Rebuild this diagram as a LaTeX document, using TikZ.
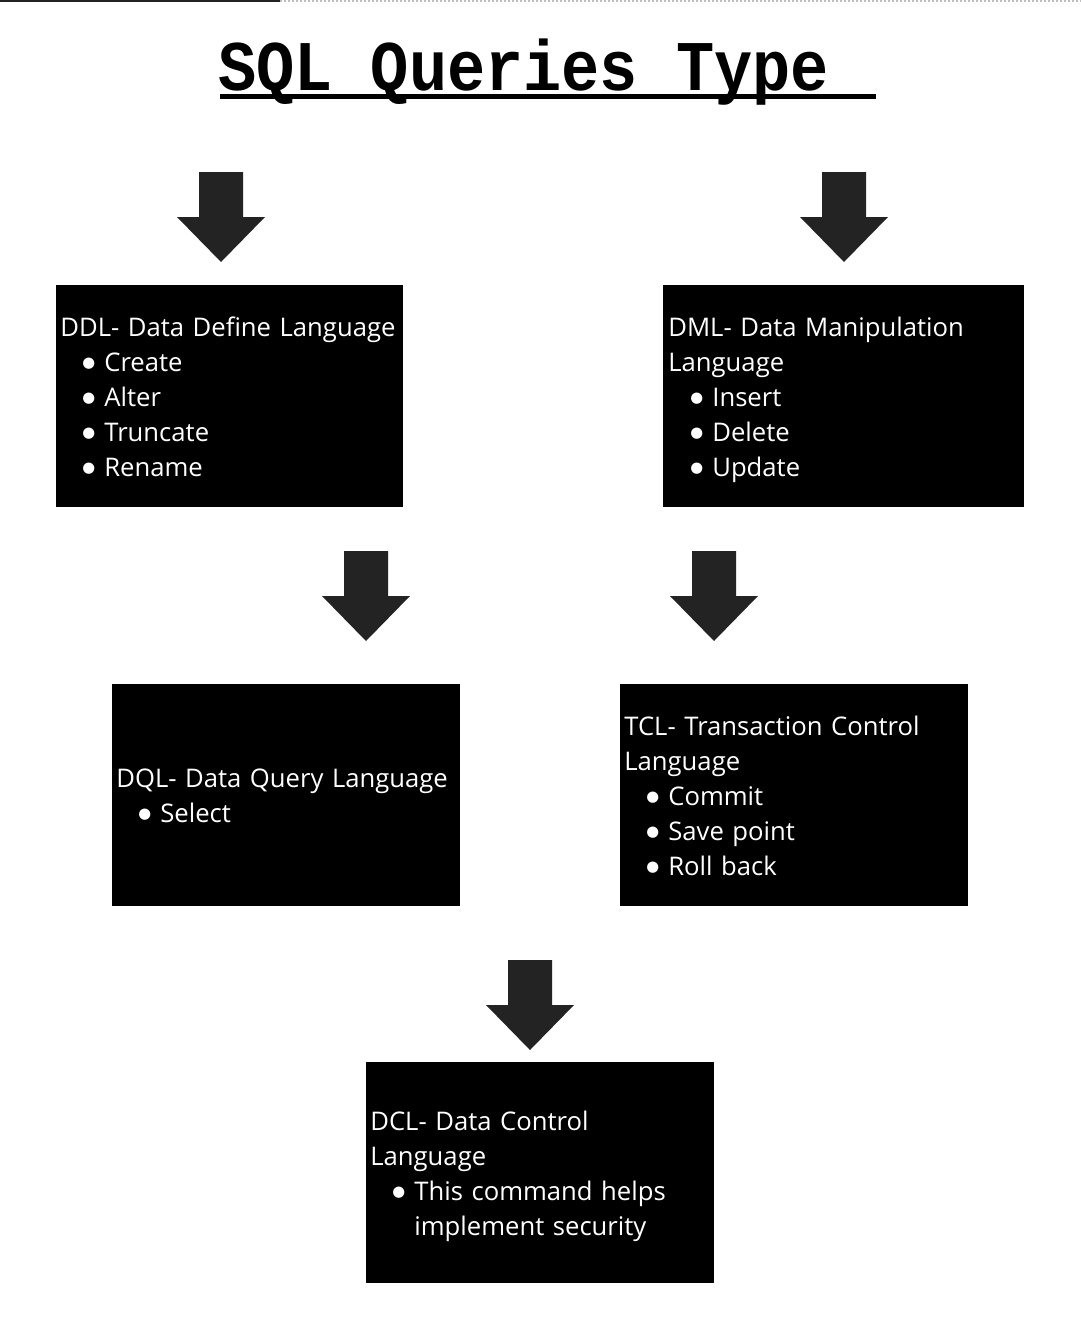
\documentclass[tikz,border=0pt]{standalone}
\usepackage{fontspec}
\setmainfont{Open Sans}
\newfontfamily\titlefont{Liberation Mono}
\newfontfamily\dotfont{DejaVu Sans}
\definecolor{arrowgray}{HTML}{232323}
\newcommand{\itm}[1]{\hspace*{0.44cm}\makebox[0.44cm][l]{\raisebox{0.16em}{\dotfont\fontsize{8.4}{8.4}\selectfont ●}}#1}
\newcommand{\itmcont}[1]{\hspace*{0.88cm}#1}
\newcommand{\topstrut}{\rule{0pt}{\dimexpr\ht\strutbox+0.12cm\relax}}
\tikzset{
  qbox/.style={fill=black, text=white, inner sep=0pt, anchor=north west,
    minimum height=4.44cm, align=left,
    execute at begin node=\topstrut, execute at end node=\strut,
    font=\fontsize{14.6}{19.9}\selectfont},
  blockarrow/.pic={
    \fill[arrowgray] (-22,0) -- (22,0) -- (22,45) -- (44,45) -- (0,90)
      -- (-44,45) -- (-22,45) -- cycle;
  }
}
\begin{document}
\begin{tikzpicture}[x=0.02cm, y=-0.02cm]
  \useasboundingbox (0,0) rectangle (1080,1325);
  % top edge of the screenshot
  \draw[arrowgray, line width=0.04cm] (0,1) -- (280,1);
  \draw[black!25, line width=0.03cm, dash pattern=on 0.04cm off 0.04cm] (280,1) -- (1080,1);
  % title
  \node[anchor=base west, inner sep=0pt, font=\titlefont\bfseries\fontsize{36.2}{40}\selectfont, yscale=1.12]
    (title) at (218,90) {SQL Queries Type};
  \fill (220,94) rectangle (876,99);
  % arrows
  \pic (a1) at (221,172) {blockarrow};
  \pic (a2) at (844,172) {blockarrow};
  \pic (a3) at (366,551) {blockarrow};
  \pic (a4) at (714,551) {blockarrow};
  \pic (a5) at (530,960) {blockarrow};
  % boxes
  \node[qbox, minimum width=6.94cm, text width=6.78cm] (ddl) at (56,285)
    {DDL- Data Define Language\\ \itm{Create}\\ \itm{Alter}\\ \itm{Truncate}\\ \itm{Rename}};
  \node[qbox, minimum width=7.22cm, text width=7.02cm] (dml) at (663,285)
    {DML- Data Manipulation\\ Language\\ \itm{Insert}\\ \itm{Delete}\\ \itm{Update}};
  \node[qbox, minimum width=6.96cm, text width=6.8cm] (dql) at (112,684)
    {DQL- Data Query Language\\ \itm{Select}};
  \node[qbox, minimum width=6.96cm, text width=6.8cm] (tcl) at (620,684)
    {TCL- Transaction Control\\ Language\\ \itm{Commit}\\ \itm{Save point}\\ \itm{Roll back}};
  \node[qbox, minimum width=6.96cm, text width=6.8cm, minimum height=4.42cm] (dcl) at (366,1062)
    {DCL- Data Control\\ Language\\ \itm{This command helps}\\ \itmcont{implement security}};
\end{tikzpicture}
\end{document}
